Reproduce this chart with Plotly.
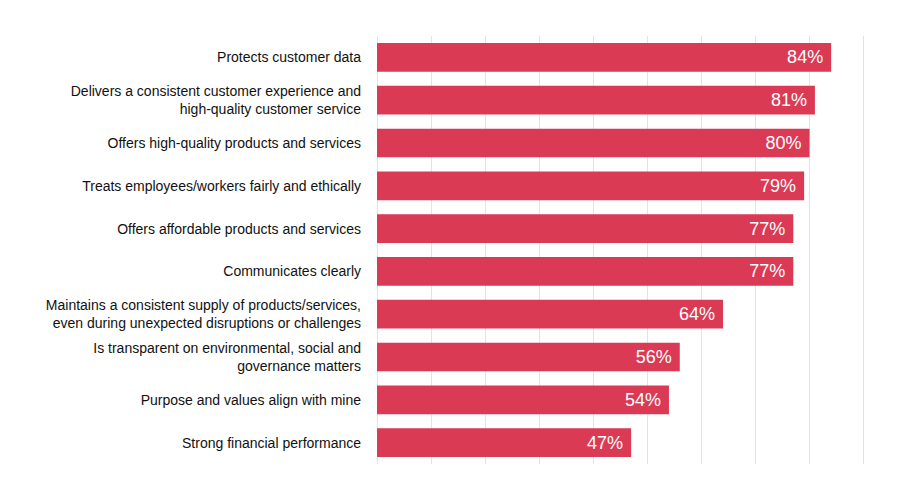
import plotly.graph_objects as go

categories = [
    "Protects customer data",
    "Delivers a consistent customer experience and<br>high-quality customer service",
    "Offers high-quality products and services",
    "Treats employees/workers fairly and ethically",
    "Offers affordable products and services",
    "Communicates clearly",
    "Maintains a consistent supply of products/services,<br>even during unexpected disruptions or challenges",
    "Is transparent on environmental, social and<br>governance matters",
    "Purpose and values align with mine",
    "Strong financial performance",
]
values = [84, 81, 80, 79, 77, 77, 64, 56, 54, 47]
labels = [f"{v}%\u00a0" for v in values]

fig = go.Figure(go.Bar(
    x=values,
    y=categories,
    orientation="h",
    text=labels,
    textposition="inside",
    insidetextanchor="end",
    textfont=dict(color="white", size=18, family="Liberation Sans"),
    marker=dict(color="#DB3A55", line=dict(width=0)),
    hoverinfo="skip",
))

fig.update_layout(
    width=900, height=500,
    margin=dict(l=369, r=39, t=28, b=44),
    paper_bgcolor="white", plot_bgcolor="white",
    bargap=0.33,
    showlegend=False,
    font=dict(family="Liberation Sans", size=14, color="#111111"),
    uniformtext=dict(minsize=18, mode="show"),
)
fig.update_xaxes(
    range=[0, 91], tickvals=[0, 10, 20, 30, 40, 50, 60, 70, 80, 90],
    showgrid=True, gridcolor="#e3e3e3", gridwidth=1,
    showticklabels=False, zeroline=True, zerolinecolor="#e3e3e3", zerolinewidth=1,
    showline=False, ticks="",
)
fig.update_yaxes(
    autorange="reversed", showgrid=False, showline=False, ticks="",
    ticklabelstandoff=15,
    tickfont=dict(size=14, color="#111111", family="Liberation Sans"),
)

fig.write_html("out.html")
